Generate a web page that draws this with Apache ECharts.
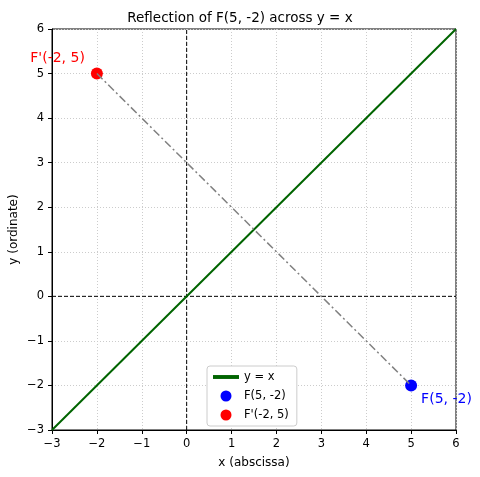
<!DOCTYPE html>
<html>
<head>
<meta charset="utf-8">
<script src="https://cdn.jsdelivr.net/npm/echarts@6/dist/echarts.min.js"></script>
<style>html,body{margin:0;padding:0;background:#fff}#chart{width:480px;height:477px}</style>
</head>
<body>
<div id="chart"></div>
<script>
// data
var lineYX = [[-3, -3], [6, 6]];
var pointF = [[5, -2]];
var pointF2 = [[-2, 5]];
var reflectSeg = [[-2, 5], [5, -2]];
var vAxisLine = [[0, -3], [0, 6]];
var hAxisLine = [[-3, 0], [6, 0]];

function fmt(v) { return String(v).replace('-', '\u2212'); }

var chart = echarts.init(document.getElementById('chart'));
chart.setOption({
    animation: false,
    textStyle: { fontFamily: 'DejaVu Sans' },
    title: {
        text: 'Reflection of F(5, -2) across y = x',
        left: 'center', top: 6,
        textStyle: { fontSize: 13.5, fontWeight: 'normal', color: '#000' }
    },
    grid: {
        left: 52, right: 24, top: 29, bottom: 47,
        outerBoundsMode: 'none', containLabel: false,
        show: true, borderColor: '#000', borderWidth: 1
    },
    legend: {
        left: 207, top: 366,
        orient: 'vertical',
        backgroundColor: '#fff',
        borderColor: '#ccc', borderWidth: 1, borderRadius: 3,
        padding: [5, 8, 5, 6],
        itemGap: 7, itemWidth: 26, itemHeight: 11,
        textStyle: { fontSize: 11.5, color: '#000' },
        data: [
            { name: 'y = x', icon: 'path://M0,0 L1,0 L1,0.15 L0,0.15 Z' },
            { name: 'F(5, -2)', icon: 'circle' },
            { name: "F'(-2, 5)", icon: 'circle' }
        ]
    },
    xAxis: {
        type: 'value', min: -3, max: 6, interval: 1,
        name: 'x (abscissa)', nameLocation: 'middle', nameGap: 27, nameMoveOverlap: false,
        nameTextStyle: { fontSize: 12, color: '#000' },
        axisLine: { show: true, onZero: false, lineStyle: { color: '#000' } },
        axisTick: { show: true, length: 4, lineStyle: { color: '#000' } },
        axisLabel: { fontSize: 11.5, color: '#000', formatter: fmt },
        splitLine: { show: true, lineStyle: { color: '#ccc', type: [1, 2] } }
    },
    yAxis: {
        type: 'value', min: -3, max: 6, interval: 1,
        name: 'y (ordinate)', nameLocation: 'middle', nameGap: 32, nameRotate: 90,
        nameMoveOverlap: false,
        nameTextStyle: { fontSize: 12, color: '#000' },
        axisLine: { show: true, onZero: false, lineStyle: { color: '#000' } },
        axisTick: { show: true, length: 4, lineStyle: { color: '#000' } },
        axisLabel: { fontSize: 11.5, color: '#000', formatter: fmt },
        splitLine: { show: true, lineStyle: { color: '#ccc', type: [1, 2] } }
    },
    series: [
        {
            type: 'line', data: vAxisLine, symbol: 'none', silent: true,
            lineStyle: { color: '#000', width: 1, type: [4, 2] }
        },
        {
            type: 'line', data: hAxisLine, symbol: 'none', silent: true,
            lineStyle: { color: '#000', width: 1, type: [4, 2] }
        },
        {
            name: 'y = x', type: 'line', data: lineYX, symbol: 'none',
            color: '#006400',
            lineStyle: { color: '#006400', width: 2 }
        },
        {
            type: 'line', data: reflectSeg, symbol: 'none', silent: true,
            lineStyle: { color: '#808080', width: 1.5, type: [8, 3, 2, 3] }
        },
        {
            name: 'F(5, -2)', type: 'scatter', data: pointF, symbolSize: 12,
            itemStyle: { color: '#0000ff', opacity: 1 },
            label: {
                show: true, formatter: 'F(5, -2)', position: [16, 13],
                fontSize: 14, color: '#0000ff', align: 'left'
            }
        },
        {
            name: "F'(-2, 5)", type: 'scatter', data: pointF2, symbolSize: 12,
            itemStyle: { color: '#ff0000', opacity: 1 },
            label: {
                show: true, formatter: "F'(-2, 5)", position: [-6, -16],
                fontSize: 14, color: '#ff0000', align: 'right'
            }
        }
    ]
});
</script>
</body>
</html>
